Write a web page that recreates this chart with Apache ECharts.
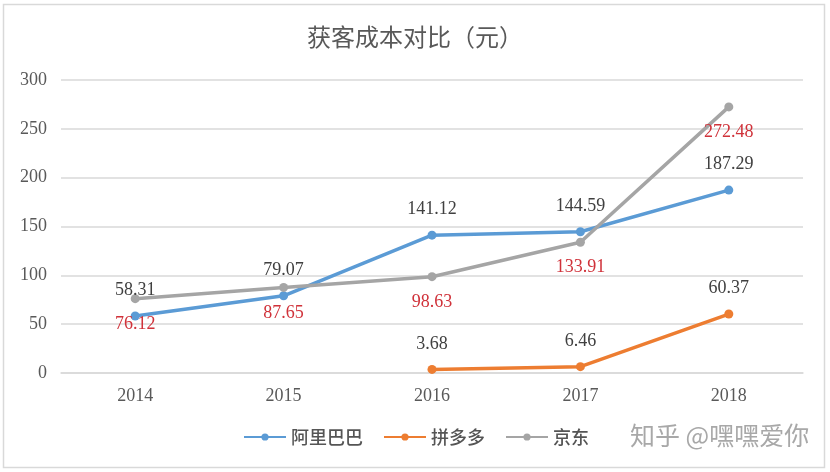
<!DOCTYPE html>
<html>
<head>
<meta charset="utf-8">
<script src="https://cdn.jsdelivr.net/npm/echarts@6/dist/echarts.min.js"></script>
<style>
  html, body { margin: 0; padding: 0; background: #fff; }
  #chart { width: 830px; height: 472px; }
</style>
</head>
<body>
<div id="chart"></div>
<script>
const years = ['2014', '2015', '2016', '2017', '2018'];
const alibaba = [58.31, 79.07, 141.12, 144.59, 187.29];
const pinduoduo = [null, null, 3.68, 6.46, 60.37];
const jingdong = [76.12, 87.65, 98.63, 133.91, 272.48];

const serif = '"Liberation Serif", "Times New Roman", serif';
const cjk = '"Noto Sans CJK SC", "Noto Sans", sans-serif';

const chart = echarts.init(document.getElementById('chart'));

function lineSeries(name, data, color, labelPos, labelColor) {
  return {
    name: name,
    type: 'line',
    data: data,
    symbol: 'circle',
    symbolSize: 9,
    lineStyle: { width: 3.5, color: color },
    itemStyle: { color: color },
    label: {
      show: true,
      position: labelPos,
      distance: 12,
      color: labelColor,
      fontFamily: serif,
      fontSize: 18
    },
    emphasis: { disabled: true }
  };
}

chart.setOption({
  animation: false,
  title: {
    text: '获客成本对比（元）',
    left: 'center',
    top: 20,
    textStyle: { fontFamily: cjk, fontSize: 24, fontWeight: 'normal', color: '#595959' }
  },
  grid: { left: 61, right: 27, top: 80, bottom: 99 },
  legend: {
    left: 243,
    top: 428,
    padding: 0,
    itemWidth: 42,
    itemHeight: 9,
    itemGap: 20,
    textStyle: { fontFamily: cjk, fontSize: 18, fontWeight: 500, color: '#555555' },
    data: ['阿里巴巴', '拼多多', '京东']
  },
  xAxis: {
    type: 'category',
    data: years,
    boundaryGap: true,
    axisLine: { show: true, lineStyle: { color: '#d9d9d9', width: 1.5 } },
    axisTick: { show: false },
    axisLabel: { margin: 14, fontFamily: serif, fontSize: 18, color: '#595959' }
  },
  yAxis: {
    type: 'value',
    min: 0,
    max: 300,
    interval: 50,
    axisLine: { show: false },
    axisTick: { show: false },
    splitLine: { lineStyle: { color: '#d9d9d9', width: 1.5 } },
    axisLabel: { margin: 14, fontFamily: serif, fontSize: 18, color: '#595959' }
  },
  graphic: [
    {
      type: 'rect',
      shape: { x: 3.5, y: 4.5, width: 821, height: 463 },
      style: { fill: 'none', stroke: '#d9d9d9', lineWidth: 1.5 },
      silent: true
    },
    {
      type: 'text',
      left: 630,
      top: 423,
      style: { text: '知乎 @嘿嘿爱你', fontFamily: cjk, fontSize: 25, fill: '#a8a8a8' },
      silent: true
    }
  ],
  series: [
    lineSeries('阿里巴巴', alibaba, '#5b9bd5', 'top', '#404040'),
    lineSeries('拼多多', pinduoduo, '#ed7d31', 'top', '#404040'),
    lineSeries('京东', jingdong, '#a5a5a5', 'bottom', '#d0323a')
  ]
});
</script>
</body>
</html>
